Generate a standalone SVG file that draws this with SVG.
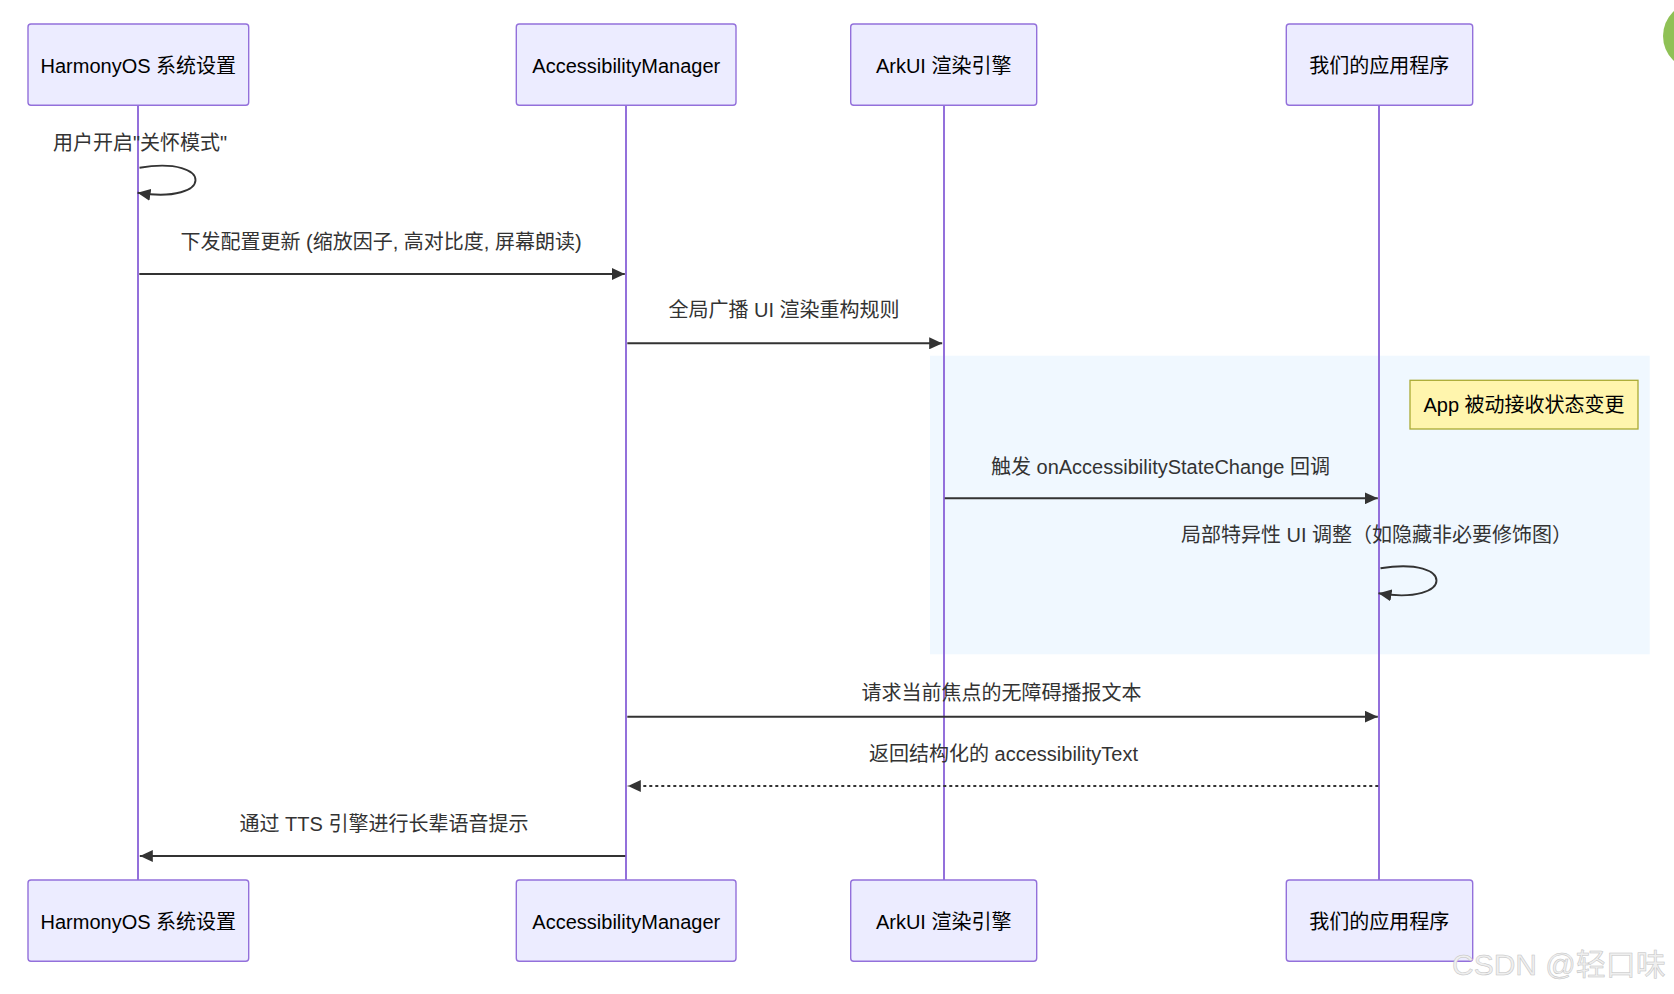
<svg xmlns="http://www.w3.org/2000/svg" width="1674" height="994" viewBox="0 0 1674 994">
  <style>
    .actor rect { fill: #ECECFF; stroke: #9370DB; stroke-width: 1.4; }
    .actor text { fill: #000; font-size: 20px; text-anchor: middle; dominant-baseline: central; }
    text { font-family: "Liberation Sans", "Noto Sans CJK SC", sans-serif; }
    .lifeline { stroke: #9370DB; stroke-width: 2; }
    .msg { stroke: #333; stroke-width: 1.9; fill: none; }
    .dashed { stroke-dasharray: 3 3; }
    .label { fill: #333; font-size: 20px; text-anchor: middle; dominant-baseline: central; }
    .note rect { fill: #FFF5AD; stroke: #AAAA33; stroke-width: 1.3; }
    .note text { fill: #000; font-size: 20px; text-anchor: middle; dominant-baseline: central; }
  </style>
  <defs>
    <marker id="head" markerUnits="userSpaceOnUse" markerWidth="13" markerHeight="12" viewBox="0 0 13 12" refX="13" refY="6" orient="auto">
      <path d="M0,0 L13,6 L0,12 z" fill="#333"/>
    </marker>
  </defs>

  <rect width="1674" height="994" fill="#fff"/>

  <!-- highlighted region behind the app-side callback steps -->
  <rect id="region-app-callback" x="930" y="355.7" width="719.7" height="298.6" fill="#F0F8FF"/>

  <!-- lifelines -->
  <g id="lifelines">
    <line class="lifeline" x1="138" y1="105.3" x2="138" y2="880"/>
    <line class="lifeline" x1="626" y1="105.3" x2="626" y2="880"/>
    <line class="lifeline" x1="944" y1="105.3" x2="944" y2="880"/>
    <line class="lifeline" x1="1379" y1="105.3" x2="1379" y2="880"/>
  </g>

  <!-- participants (top row) -->
  <g id="actor-settings-top" class="actor">
    <rect x="28" y="24" width="220.7" height="81.3" rx="3"/>
    <text x="138.3" y="65.5">HarmonyOS 系统设置</text>
  </g>
  <g id="actor-manager-top" class="actor">
    <rect x="516.3" y="24" width="219.7" height="81.3" rx="3"/>
    <text x="626.3" y="65.5">AccessibilityManager</text>
  </g>
  <g id="actor-arkui-top" class="actor">
    <rect x="850.7" y="24" width="186" height="81.3" rx="3"/>
    <text x="943.7" y="65.5">ArkUI 渲染引擎</text>
  </g>
  <g id="actor-app-top" class="actor">
    <rect x="1286.3" y="24" width="186.4" height="81.3" rx="3"/>
    <text x="1379.3" y="65.5">我们的应用程序</text>
  </g>

  <!-- participants (bottom row) -->
  <g id="actor-settings-bottom" class="actor">
    <rect x="28" y="880" width="220.7" height="81.3" rx="3"/>
    <text x="138.3" y="921.5">HarmonyOS 系统设置</text>
  </g>
  <g id="actor-manager-bottom" class="actor">
    <rect x="516.3" y="880" width="219.7" height="81.3" rx="3"/>
    <text x="626.3" y="921.5">AccessibilityManager</text>
  </g>
  <g id="actor-arkui-bottom" class="actor">
    <rect x="850.7" y="880" width="186" height="81.3" rx="3"/>
    <text x="943.7" y="921.5">ArkUI 渲染引擎</text>
  </g>
  <g id="actor-app-bottom" class="actor">
    <rect x="1286.3" y="880" width="186.4" height="81.3" rx="3"/>
    <text x="1379.3" y="921.5">我们的应用程序</text>
  </g>

  <!-- note -->
  <g id="note-app-passive" class="note">
    <rect x="1410" y="380.3" width="228" height="48.7"/>
    <text x="1524" y="405">App 被动接收状态变更</text>
  </g>

  <!-- messages -->
  <g id="connectors">
    <text class="label" x="140" y="142.7">用户开启"关怀模式"</text>
    <path class="msg" d="M139.5,167.7 C214.5,155.2 214.5,205.1 137.5,192.7" marker-end="url(#head)"/>

    <text class="label" x="381" y="241.7">下发配置更新 (缩放因子, 高对比度, 屏幕朗读)</text>
    <line class="msg" x1="139.3" y1="274" x2="624.8" y2="274" marker-end="url(#head)"/>

    <text class="label" x="784" y="310">全局广播 UI 渲染重构规则</text>
    <line class="msg" x1="627.3" y1="343.3" x2="942.2" y2="343.3" marker-end="url(#head)"/>

    <text class="label" x="1160.5" y="466.7">触发 onAccessibilityStateChange 回调</text>
    <line class="msg" x1="944.7" y1="498.3" x2="1377.8" y2="498.3" marker-end="url(#head)"/>

    <text class="label" x="1376.5" y="535">局部特异性 UI 调整（如隐藏非必要修饰图）</text>
    <path class="msg" d="M1380.5,568.3 C1455.5,555.8 1455.5,605.7 1378.5,593.3" marker-end="url(#head)"/>

    <text class="label" x="1001.5" y="692.7">请求当前焦点的无障碍播报文本</text>
    <line class="msg" x1="627.3" y1="716.7" x2="1377.8" y2="716.7" marker-end="url(#head)"/>

    <text class="label" x="1003.5" y="754.3">返回结构化的 accessibilityText</text>
    <line class="msg dashed" x1="1378.3" y1="786" x2="627.8" y2="786" marker-end="url(#head)"/>

    <text class="label" x="384" y="824.3">通过 TTS 引擎进行长辈语音提示</text>
    <line class="msg" x1="625.3" y1="856" x2="139.8" y2="856" marker-end="url(#head)"/>
  </g>

  <!-- corner badge and watermark -->
  <circle cx="1697" cy="36" r="34" fill="#8FC155"/>
  <text x="1452" y="964" font-size="30" fill="#efefef" stroke="#c2c2c2" stroke-width="0.5" dominant-baseline="central">CSDN @轻口味</text>
</svg>
